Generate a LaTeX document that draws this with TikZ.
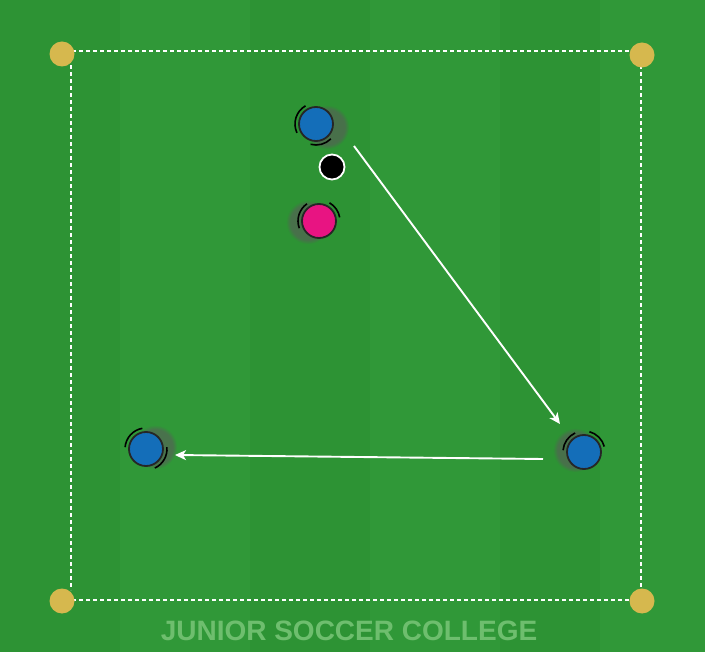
\documentclass[tikz,border=0pt]{standalone}
\usepackage{fontspec}
\setmainfont{Liberation Sans}
\usetikzlibrary{arrows.meta,fadings}
\definecolor{grass}{RGB}{48,152,56}
\definecolor{grassdark}{RGB}{45,147,52}
\definecolor{cone}{RGB}{214,184,78}
\definecolor{pblue}{RGB}{20,110,185}
\definecolor{ppink}{RGB}{232,20,130}
\definecolor{logo}{RGB}{110,190,110}
\definecolor{shadowc}{RGB}{90,90,90}
\tikzset{
  x=1pt,y=-1pt,
  conemark/.style={circle,fill=cone,minimum size=25pt,inner sep=0pt},
  fieldline/.style={white,line width=1.9pt,dash pattern=on 4pt off 3pt},
  player/.style={circle,draw=black!85,line width=1.8pt,minimum size=34pt,inner sep=0pt},
  ballmark/.style={circle,fill=black,draw=white,line width=1.8pt,minimum size=25pt,inner sep=0pt},
  pass/.style={white,line width=1.9pt,-{Stealth[length=11pt,width=10pt,inset=3pt]}},
  spin/.style={black,line width=1.6pt},
  shadowblob/.style={fill=shadowc,opacity=0.6,path fading=circle with fuzzy edge 20 percent}
}
\begin{document}
\begin{tikzpicture}
\fill[grass] (0,0) rectangle (705,652);
\fill[grassdark] (0,0) rectangle (120,652);
\fill[grassdark] (250,0) rectangle (370,652);
\fill[grassdark] (500,0) rectangle (600,652);
\useasboundingbox (0,0) rectangle (705,652);
% field
\draw[fieldline] (72,51) -- (640,51);
\draw[fieldline] (72,600) -- (640,600);
\draw[fieldline] (71,65) -- (71,590);
\draw[fieldline] (641,65) -- (641,590);
\node[conemark] (c1) at (62,54) {};
\node[conemark] (c2) at (642,55) {};
\node[conemark] (c3) at (62,601) {};
\node[conemark] (c4) at (642,601) {};
% shadows
\fill[shadowblob] (327,127) circle (22);
\fill[shadowblob] (308,222) circle (22);
\fill[shadowblob] (575,450) circle (22);
\fill[shadowblob] (155,447) circle (22);
% players
\node[player,fill=pblue] (p1) at (316,124) {};
\node[ballmark] (ball) at (332,167) {};
\node[player,fill=ppink] (p2) at (319,221) {};
\node[player,fill=pblue] (p3) at (584,452) {};
\node[player,fill=pblue] (p4) at (146,449) {};
% spin arcs
\draw[spin] (p1.center) ++(45:21) arc[start angle=45,end angle=105,radius=21];
\draw[spin] (p1.center) ++(155:21) arc[start angle=155,end angle=240,radius=21];
\draw[spin] (p2.center) ++(160:21) arc[start angle=160,end angle=235,radius=21];
\draw[spin] (p2.center) ++(300:21) arc[start angle=300,end angle=350,radius=21];
\draw[spin] (p3.center) ++(-15:21) arc[start angle=-15,end angle=-75,radius=21];
\draw[spin] (p3.center) ++(-115:21) arc[start angle=-115,end angle=-175,radius=21];
\draw[spin] (p4.center) ++(-100:21) arc[start angle=-100,end angle=-175,radius=21];
\draw[spin] (p4.center) ++(65:21) arc[start angle=65,end angle=-5,radius=21];
% passes
\coordinate (a1s) at (354,146);
\coordinate (a1e) at (560,424);
\coordinate (a2s) at (543,459);
\coordinate (a2e) at (175,455);
\draw[pass] (a1s) -- (a1e);
\draw[pass] (a2s) -- (a2e);
% logo
\node[text=logo,font=\bfseries\fontsize{28}{28}\selectfont,inner sep=0pt] (logo) at (349,631) {JUNIOR SOCCER COLLEGE};
\end{tikzpicture}
\end{document}
